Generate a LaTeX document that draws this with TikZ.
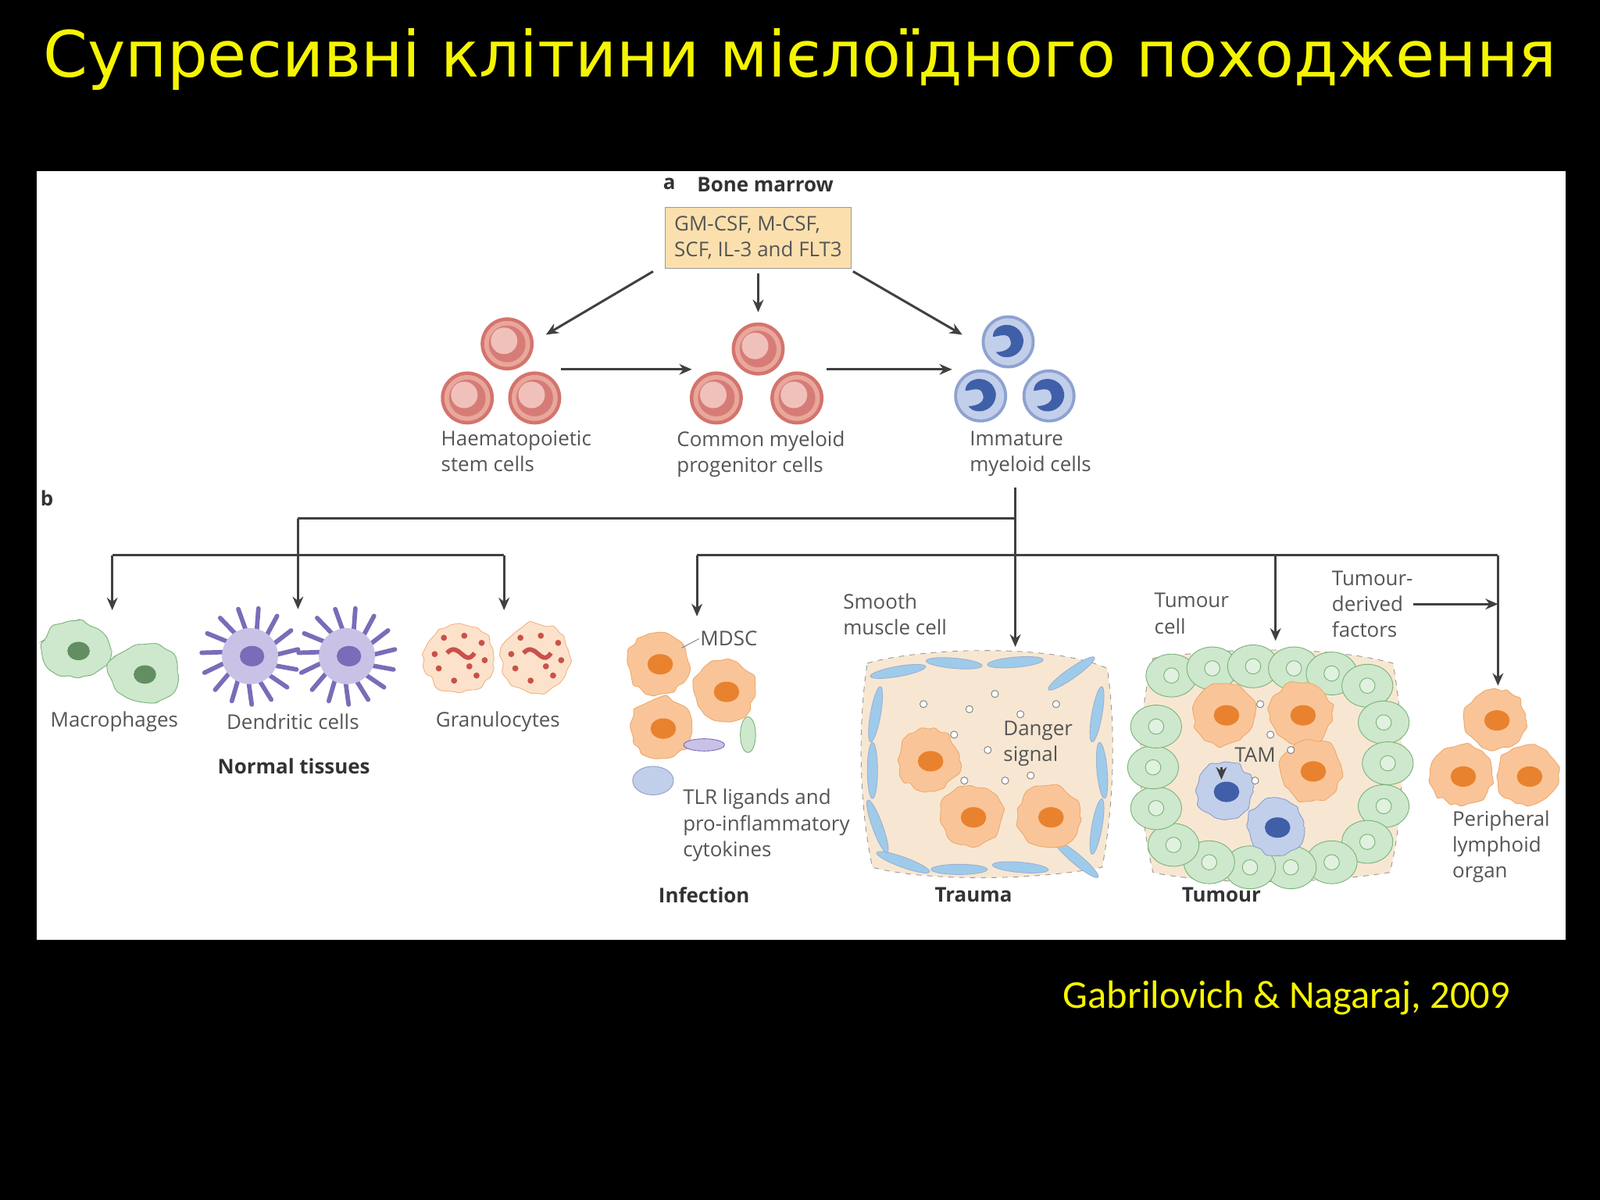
\documentclass[tikz,border=0pt]{standalone}
\usepackage{fontspec}
\setmainfont{Open Sans}
\newfontfamily\titlefont{DejaVu Sans}
\newfontfamily\citefont{Carlito}
\usetikzlibrary{arrows.meta,decorations.pathmorphing}
\definecolor{ttl}{HTML}{F5F500}
\definecolor{lbl}{HTML}{555555}
\definecolor{boxf}{HTML}{FBE0AE}
\definecolor{redf}{HTML}{E9A79C}
\definecolor{redd}{HTML}{C9514A}
\definecolor{bluef}{HTML}{C2CFEA}
\definecolor{blued}{HTML}{3F5FA8}
\definecolor{orf}{HTML}{F9C598}
\definecolor{ord}{HTML}{E9822E}
\definecolor{grf}{HTML}{CDE8CC}
\definecolor{grd}{HTML}{7CB27A}
\definecolor{puf}{HTML}{C9C2E6}
\definecolor{pud}{HTML}{7A6CB8}
\definecolor{tis}{HTML}{F7E7D2}
\definecolor{smc}{HTML}{9FCBEA}
\tikzset{
 lab/.style={text=lbl,font=\fontsize{11.3}{14.5}\selectfont,align=left,inner sep=0},
 bold/.style={text=black!80,font=\bfseries\fontsize{11.3}{14}\selectfont,inner sep=0},
 arr/.style={draw=black!75,line width=1.3pt,-{Stealth[length=7pt,width=6pt]}},
 ln/.style={draw=black!75,line width=1.3pt},
 pics/redcell/.style={code={\fill[redd!80] (0,0) circle (0.52cm);\fill[redf] (0,0) circle (0.45cm);\fill[redd!75] (0,0) circle (0.36cm);\fill[redf!70!white] (-3,-3) circle (0.26cm);}},
 pics/bluecell/.style={code={\fill[bluef!60!blued] (0,0) circle (0.52cm);\fill[bluef] (0,0) circle (0.46cm);
   \fill[blued] (-15,-5) .. controls (-15,-20) and (12,-22) .. (15,-2) .. controls (15,15) and (-5,20) .. (-12,10) .. controls (-2,10) and (5,5) .. (2,-2) .. controls (0,-10) and (-10,-5) .. cycle;}},
 pics/orcell/.style={code={\draw[ord!70,fill=orf,decorate,decoration={random steps,segment length=4pt,amplitude=1.5pt},rounded corners=1pt] (0,0) circle (0.6cm);\fill[ord] (2,1) ellipse (0.25cm and 0.2cm);}},
 pics/grcell/.style={code={\draw[grd,fill=grf,decorate,decoration={random steps,segment length=5pt,amplitude=2pt},rounded corners=2pt] (0,0) ellipse (0.68cm and 0.56cm);\fill[grd!80!black] (2,1) ellipse (0.22cm and 0.18cm);}},
 pics/tucell/.style={code={\draw[grd,fill=grf,rounded corners=3pt] (0,0) ellipse (0.5cm and 0.42cm);\draw[grd,fill=grf!60!white] (0,0) circle (0.15cm);}},
 pics/blcell/.style={code={\draw[blued!60,fill=bluef,decorate,decoration={random steps,segment length=4pt,amplitude=1.5pt},rounded corners=1pt] (0,0) circle (0.55cm);\fill[blued] (2,1) ellipse (0.25cm and 0.2cm);}},
 pics/dccell/.style={code={\foreach \a in {0,24,...,359}{\draw[pud,line width=2.5pt,line cap=round] (\a:0.4cm) -- (\a+8:0.95cm);}\fill[puf] (0,0) circle (0.55cm);\fill[pud] (2,0) ellipse (0.24cm and 0.2cm);}},
 pics/grancell/.style={code={\draw[ord!60,fill=orf!50!white,decorate,decoration={random steps,segment length=4pt,amplitude=1.5pt},rounded corners=1pt] (0,0) circle (0.68cm);
   \draw[redd,line width=2.5pt] (-12,-5) .. controls (0,-18) and (5,10) .. (15,-5);\foreach \px/\py in {-20/10,17/17,5/-22,-15/-20,22/-15,-5/22,25/2,-24/-4,10/8}{\fill[redd] (\px,\py) circle (0.06cm);}}},
}
\begin{document}
\begin{tikzpicture}[x=0.02cm,y=-0.02cm]
\fill[black] (0,0) rectangle (1568,1176);
\useasboundingbox (0,0) rectangle (1568,1176);
\node[text=ttl,font=\titlefont\fontsize{35.6}{42}\selectfont] (title) at (784,58) {Супресивні клітини мієлоїдного походження};
\fill[white] (36,168) rectangle (1534,921);
\node[text=ttl,font=\citefont\fontsize{22}{26}\selectfont] (cite) at (1261,978) {Gabrilovich \& Nagaraj, 2009};
% panel a
\node[bold] (la) at (656,180) {a};
\node[bold] (bm) at (750,181) {Bone marrow};
\node[draw=black!40,fill=boxf,lab,inner sep=5pt,align=left] (gm) at (743,233) {GM-CSF, M-CSF,\\SCF, IL-3 and FLT3};
\coordinate (g1) at (640,266); \coordinate (g1e) at (535,328);
\coordinate (g2) at (743,268); \coordinate (g2e) at (743,306);
\coordinate (g3) at (836,266); \coordinate (g3e) at (943,328);
\draw[arr] (g1) -- (g1e); \draw[arr] (g2) -- (g2e); \draw[arr] (g3) -- (g3e);
\pic at (497,337) {redcell}; \pic at (458,390) {redcell}; \pic at (524,390) {redcell};
\pic at (743,342) {redcell}; \pic at (702,390) {redcell}; \pic at (781,390) {redcell};
\pic at (988,335) {bluecell}; \pic at (961,388) {bluecell}; \pic at (1028,388) {bluecell};
\coordinate (h1) at (550,362); \coordinate (h1e) at (678,362);
\coordinate (h2) at (810,362); \coordinate (h2e) at (933,362);
\draw[arr] (h1) -- (h1e); \draw[arr] (h2) -- (h2e);
\node[lab,anchor=north west] (hsc) at (432,422) {Haematopoietic\\stem cells};
\node[lab,anchor=north west] (cmp) at (663,422) {Common myeloid\\progenitor cells};
\node[lab,anchor=north west] (imc) at (950,422) {Immature\\myeloid cells};
% panel b
\node[bold] (lb) at (46,488) {b};
\coordinate (t0) at (995,478); \coordinate (t1) at (995,508); \coordinate (t2) at (292,508);
\coordinate (t2e) at (292,597); \coordinate (t3) at (110,544); \coordinate (t4) at (494,544);
\coordinate (t3e) at (110,598); \coordinate (t4e) at (494,598);
\coordinate (t5) at (683,544); \coordinate (t6) at (1468,544); \coordinate (t5e) at (683,604);
\coordinate (t7) at (995,634); \coordinate (t8) at (1250,544); \coordinate (t8e) at (1250,628);
\coordinate (t6e) at (1468,672); \coordinate (tf) at (1385,592); \coordinate (tfe) at (1468,592);
\draw[ln] (t0) -- (t1) -- (t2); \draw[arr] (t2) -- (t2e);
\draw[ln] (t3) -- (t4); \draw[arr] (t3) -- (t3e); \draw[arr] (t4) -- (t4e);
\draw[ln] (t5) -- (t6); \draw[arr] (t5) -- (t5e); \draw[arr] (t1) -- (t7);
\draw[arr] (t8) -- (t8e); \draw[arr] (t6) -- (t6e); \draw[arr] (tf) -- (tfe);
% normal tissues
\pic at (75,637) {grcell}; \pic at (140,660) {grcell};
\pic at (245,643) {dccell}; \pic at (340,643) {dccell};
\pic at (450,645) {grancell}; \pic at (525,645) {grancell};
\node[lab] (mac) at (112,707) {Macrophages};
\node[lab] (dcl) at (287,707) {Dendritic cells};
\node[lab] (gra) at (488,707) {Granulocytes};
\node[bold] (nt) at (288,751) {Normal tissues};
% infection
\pic at (645,650) {orcell}; \pic at (710,677) {orcell}; \pic at (648,713) {orcell};
\draw[blued!60,fill=bluef] (640,765) ellipse (0.4cm and 0.28cm);
\draw[pud,fill=puf] (690,730) ellipse (0.4cm and 0.12cm);
\draw[grd,fill=grf] (733,720) ellipse (0.15cm and 0.35cm);
\coordinate (md) at (668,635); \coordinate (mde) at (685,626);
\draw[black!50] (md) -- (mde);
\node[lab,anchor=west] (mdsc) at (686,626) {MDSC};
\node[lab,anchor=north west] (tlr) at (669,773) {TLR ligands and\\pro-inflammatory\\cytokines};
\node[bold] (inf) at (690,877) {Infection};
% trauma
\draw[black!40,dashed,fill=tis] (850,650) .. controls (900,635) and (1030,630) .. (1085,655) .. controls (1095,720) and (1090,800) .. (1080,850) .. controls (1000,865) and (900,862) .. (855,850) .. controls (840,780) and (842,700) .. cycle;
\foreach \px/\py/\r in {880/658/10,935/650/-5,995/649/5,1050/660/35,1075/700/80,1080/755/95,1075/810/80,1055/842/140,1000/850/175,940/852/180,885/845/160,860/810/110,855/755/90,858/700/80}{\draw[blued!50,fill=smc] (\px,\py) ellipse[x radius=0.55cm,y radius=0.1cm,rotate=\r];}
\foreach \px/\py in {950/695,975/680,1000/700,935/720,968/735,945/765,985/765,1010/760,975/790,905/690,1035/690}{\draw[black!50,fill=white] (\px,\py) circle (0.07cm);}
\pic at (910,745) {orcell}; \pic at (952,800) {orcell}; \pic at (1028,800) {orcell};
\node[lab,anchor=north west] (smc) at (826,581) {Smooth\\muscle cell};
\node[lab,anchor=north west] (dang) at (983,706) {Danger\\signal};
\node[bold] (tra) at (954,877) {Trauma};
% tumour
\draw[black!40,dashed,fill=tis] (1130,645) .. controls (1200,635) and (1300,632) .. (1365,650) .. controls (1378,720) and (1376,800) .. (1362,855) .. controls (1280,868) and (1180,866) .. (1130,855) .. controls (1112,780) and (1115,700) .. cycle;
\foreach \px/\py in {1148/662,1188/655,1228/653,1268/655,1305/660,1340/672,1356/708,1360/748,1356/790,1340/825,1305/845,1265/850,1225/850,1185/845,1150/828,1133/792,1130/752,1133/712}{\pic at (\px,\py) {tucell};}
\pic at (1200,700) {orcell}; \pic at (1275,700) {orcell}; \pic at (1285,755) {orcell};
\pic at (1200,775) {blcell}; \pic at (1250,810) {blcell};
\foreach \px/\py in {1235/690,1245/720,1230/765,1265/735}{\draw[black!50,fill=white] (\px,\py) circle (0.07cm);}
\coordinate (tm) at (1197,752); \coordinate (tme) at (1197,764);
\draw[arr,line width=1pt] (tm) -- (tme);
\node[lab] (tam) at (1230,740) {TAM};
\node[lab,anchor=north west] (tc) at (1131,581) {Tumour\\cell};
\node[lab,anchor=north west] (tdf) at (1305,559) {Tumour-\\derived\\factors};
\node[bold] (tum) at (1197,877) {Tumour};
% peripheral
\pic at (1465,705) {orcell}; \pic at (1432,760) {orcell}; \pic at (1497,760) {orcell};
\node[lab,anchor=north west] (per) at (1423,794) {Peripheral\\lymphoid\\organ};
\end{tikzpicture}
\end{document}
